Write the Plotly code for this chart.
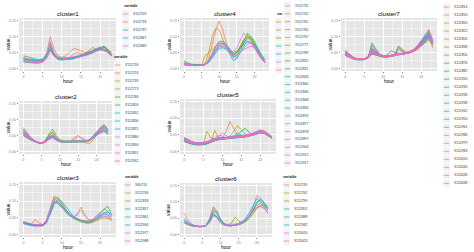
import math
import plotly.graph_objects as go

HOURS = list(range(24))
X_TICKS = [0, 5, 10, 15, 20]
Y_TICKS = [0.0, 0.05, 0.10, 0.15]

CLUSTER1 = [
    [.030,.027,.025,.024,.024,.025,.045,.100,.060,.040,.035,.034,.034,.035,.038,.040,.042,.045,.050,.055,.060,.065,.058,.045],
    [.025,.022,.020,.020,.020,.022,.040,.080,.050,.035,.033,.040,.050,.062,.060,.055,.050,.048,.050,.058,.060,.070,.060,.042],
    [.028,.025,.024,.022,.022,.024,.035,.065,.045,.030,.028,.027,.028,.030,.035,.040,.045,.055,.066,.060,.058,.055,.050,.040],
    [.035,.030,.028,.026,.025,.026,.040,.070,.045,.032,.030,.030,.032,.034,.036,.040,.045,.050,.055,.060,.065,.060,.055,.045],
    [.040,.036,.033,.030,.028,.030,.045,.060,.040,.032,.030,.030,.031,.033,.035,.040,.045,.050,.055,.060,.065,.070,.060,.050],
    [.020,.018,.018,.017,.017,.020,.035,.075,.040,.028,.026,.028,.030,.032,.035,.038,.042,.046,.050,.058,.062,.060,.055,.040],
    [.030,.028,.026,.025,.025,.027,.040,.060,.042,.030,.028,.029,.030,.032,.035,.038,.040,.045,.050,.055,.060,.067,.055,.042],
    [.025,.023,.021,.020,.020,.022,.038,.085,.045,.030,.028,.028,.030,.030,.034,.036,.040,.043,.048,.052,.058,.060,.052,.040],
    [.032,.030,.028,.027,.026,.028,.042,.070,.048,.036,.032,.032,.034,.036,.040,.044,.048,.052,.056,.062,.068,.060,.050,.042],
    [.022,.020,.019,.018,.018,.020,.030,.055,.038,.030,.028,.030,.035,.045,.050,.045,.042,.045,.050,.055,.060,.058,.050,.038],
]

CLUSTER2 = [
    [.075,.058,.045,.035,.029,.027,.031,.045,.050,.038,.032,.031,.031,.032,.034,.034,.033,.033,.036,.046,.060,.072,.078,.065],
    [.060,.050,.041,.034,.028,.026,.030,.048,.062,.045,.034,.032,.032,.033,.045,.050,.040,.034,.036,.044,.055,.066,.072,.060],
    [.055,.045,.038,.032,.027,.025,.029,.040,.045,.036,.030,.029,.029,.030,.031,.031,.030,.027,.025,.035,.055,.075,.085,.070],
    [.065,.052,.042,.034,.029,.028,.034,.055,.070,.050,.036,.033,.032,.032,.033,.032,.031,.031,.034,.042,.052,.062,.068,.058],
    [.050,.042,.036,.031,.027,.026,.030,.042,.048,.038,.032,.031,.031,.032,.033,.033,.032,.032,.035,.048,.062,.070,.074,.062],
    [.070,.055,.043,.034,.028,.026,.029,.038,.044,.036,.031,.030,.030,.031,.032,.032,.031,.031,.034,.043,.056,.068,.080,.068],
    [.058,.047,.039,.033,.028,.027,.033,.052,.058,.042,.034,.032,.032,.033,.034,.034,.033,.033,.036,.045,.054,.062,.066,.056],
    [.062,.050,.041,.034,.029,.027,.031,.044,.046,.036,.031,.030,.030,.031,.032,.032,.031,.031,.035,.047,.060,.074,.082,.066],
    [.052,.044,.037,.032,.028,.027,.032,.046,.052,.040,.033,.031,.031,.032,.033,.033,.032,.032,.036,.044,.053,.060,.064,.055],
    [.068,.054,.043,.035,.029,.027,.030,.041,.045,.036,.031,.030,.030,.031,.032,.032,.031,.030,.033,.042,.058,.070,.076,.063],
    [.057,.047,.039,.033,.028,.026,.029,.039,.043,.035,.031,.030,.030,.031,.040,.046,.042,.035,.035,.044,.055,.066,.073,.062],
    [.063,.051,.041,.034,.029,.027,.031,.043,.047,.037,.032,.031,.031,.032,.033,.033,.032,.032,.036,.046,.059,.071,.079,.067],
    [.054,.045,.038,.032,.028,.026,.030,.041,.046,.037,.032,.031,.031,.032,.033,.033,.032,.032,.034,.041,.050,.058,.063,.054],
]

CLUSTER3 = [
    [.036,.032,.030,.045,.035,.030,.040,.075,.110,.100,.085,.070,.060,.050,.045,.040,.036,.034,.036,.042,.050,.055,.052,.045],
    [.034,.030,.028,.027,.026,.027,.038,.070,.105,.112,.095,.075,.060,.052,.058,.082,.060,.045,.040,.042,.046,.050,.048,.042],
    [.038,.034,.031,.029,.028,.029,.042,.080,.115,.108,.090,.072,.058,.048,.042,.038,.035,.034,.038,.048,.062,.077,.070,.055],
    [.033,.029,.027,.026,.025,.026,.035,.065,.095,.098,.088,.074,.062,.054,.048,.043,.040,.040,.045,.055,.065,.075,.085,.060],
    [.035,.031,.029,.028,.027,.028,.037,.072,.100,.092,.080,.068,.058,.050,.045,.041,.038,.037,.040,.046,.054,.060,.058,.050],
    [.037,.033,.030,.029,.028,.029,.040,.060,.090,.105,.100,.085,.068,.055,.047,.042,.039,.038,.041,.048,.056,.064,.068,.058],
    [.032,.028,.026,.025,.024,.025,.033,.068,.108,.098,.082,.066,.056,.050,.062,.072,.055,.044,.042,.045,.050,.054,.052,.046],
    [.039,.035,.032,.030,.029,.030,.043,.078,.102,.095,.084,.070,.060,.052,.046,.042,.040,.040,.044,.052,.060,.066,.062,.052],
]

CLUSTER4 = [
    [.015,.012,.010,.010,.010,.010,.012,.030,.080,.120,.148,.120,.080,.050,.040,.045,.060,.080,.095,.090,.070,.050,.035,.020],
    [.020,.015,.012,.011,.011,.012,.015,.050,.100,.125,.120,.090,.065,.050,.040,.050,.070,.090,.100,.095,.075,.055,.035,.020],
    [.015,.012,.011,.010,.010,.012,.040,.050,.060,.070,.080,.078,.070,.055,.045,.050,.070,.090,.105,.090,.070,.050,.030,.018],
    [.012,.010,.010,.010,.010,.010,.012,.025,.050,.070,.085,.085,.075,.060,.045,.050,.065,.085,.110,.100,.080,.055,.035,.020],
    [.025,.018,.014,.012,.012,.012,.014,.020,.040,.060,.075,.080,.070,.055,.035,.040,.060,.080,.095,.100,.085,.060,.040,.025],
    [.015,.012,.010,.010,.010,.011,.013,.020,.035,.055,.070,.075,.070,.060,.050,.055,.065,.075,.085,.080,.075,.060,.045,.028],
    [.012,.010,.010,.009,.009,.010,.012,.020,.035,.050,.062,.065,.060,.045,.025,.030,.050,.070,.085,.080,.065,.050,.035,.020],
    [.014,.012,.010,.010,.010,.011,.013,.022,.040,.055,.065,.070,.065,.050,.035,.035,.050,.065,.075,.080,.070,.055,.035,.020],
    [.013,.011,.010,.010,.010,.010,.012,.022,.045,.065,.080,.080,.070,.055,.050,.065,.090,.110,.100,.085,.065,.045,.030,.018],
    [.016,.013,.011,.010,.010,.011,.013,.025,.045,.060,.070,.070,.062,.050,.040,.042,.050,.060,.065,.070,.065,.050,.032,.020],
]

CLUSTER5 = [
    [.036,.030,.026,.024,.023,.024,.027,.032,.036,.038,.040,.042,.044,.045,.046,.046,.047,.049,.052,.057,.060,.058,.052,.044],
    [.033,.028,.024,.022,.021,.022,.025,.030,.034,.037,.040,.060,.090,.070,.050,.045,.046,.048,.051,.055,.057,.055,.049,.041],
    [.038,.032,.027,.025,.024,.025,.028,.034,.038,.040,.041,.042,.046,.060,.078,.065,.052,.050,.053,.058,.062,.059,.053,.045],
    [.031,.027,.023,.021,.020,.021,.024,.029,.063,.040,.038,.039,.040,.041,.042,.043,.044,.046,.049,.054,.058,.056,.050,.042],
    [.040,.034,.029,.026,.025,.026,.060,.040,.038,.038,.039,.040,.041,.042,.043,.043,.045,.047,.051,.056,.060,.058,.052,.044],
    [.034,.029,.025,.023,.022,.023,.026,.031,.035,.037,.039,.040,.041,.042,.043,.044,.046,.049,.054,.060,.065,.062,.054,.045],
    [.037,.031,.027,.024,.023,.024,.028,.033,.037,.039,.040,.041,.042,.043,.044,.043,.044,.046,.049,.053,.056,.055,.050,.043],
    [.029,.025,.022,.020,.019,.020,.023,.028,.033,.036,.038,.040,.042,.044,.050,.060,.070,.058,.050,.052,.055,.054,.048,.040],
    [.035,.030,.026,.024,.023,.024,.027,.032,.036,.038,.039,.041,.043,.045,.047,.048,.049,.050,.053,.058,.061,.059,.053,.045],
    [.042,.035,.030,.027,.026,.027,.030,.035,.039,.041,.042,.042,.043,.043,.044,.044,.045,.047,.050,.054,.057,.056,.051,.046],
    [.032,.028,.024,.022,.021,.022,.025,.030,.034,.036,.038,.039,.040,.041,.042,.042,.044,.047,.052,.058,.062,.060,.053,.043],
    [.036,.031,.027,.025,.024,.025,.028,.033,.037,.039,.040,.041,.042,.043,.044,.045,.046,.048,.051,.055,.058,.057,.052,.044],
    [.039,.033,.028,.026,.025,.026,.029,.034,.038,.040,.041,.042,.043,.048,.055,.050,.046,.047,.050,.055,.059,.057,.051,.043],
    [.030,.026,.023,.021,.020,.021,.024,.029,.033,.035,.037,.038,.039,.040,.041,.041,.043,.046,.050,.056,.060,.058,.051,.042],
    [.035,.030,.026,.024,.023,.024,.027,.031,.035,.045,.055,.048,.043,.043,.044,.044,.046,.048,.051,.055,.058,.056,.050,.043],
    [.037,.032,.027,.025,.024,.025,.028,.032,.036,.038,.039,.040,.041,.042,.043,.043,.044,.046,.049,.052,.055,.054,.049,.042],
    [.033,.028,.025,.023,.022,.023,.026,.031,.035,.037,.039,.040,.042,.043,.044,.045,.047,.050,.055,.061,.064,.060,.052,.043],
    [.041,.034,.029,.026,.025,.026,.029,.034,.038,.040,.041,.042,.043,.044,.045,.045,.046,.048,.051,.055,.058,.057,.052,.046],
    [.034,.029,.025,.023,.022,.023,.026,.030,.034,.036,.038,.040,.042,.044,.046,.047,.048,.050,.054,.059,.063,.061,.054,.044],
    [.038,.032,.028,.025,.024,.025,.028,.033,.040,.050,.045,.042,.043,.044,.045,.044,.045,.047,.050,.054,.057,.055,.050,.043],
    [.032,.027,.024,.022,.021,.022,.025,.030,.034,.036,.038,.039,.040,.041,.042,.043,.045,.048,.053,.058,.061,.059,.051,.041],
]

CLUSTER6 = [
    [.065,.045,.032,.027,.025,.025,.028,.045,.060,.050,.035,.028,.027,.027,.028,.030,.035,.045,.060,.085,.120,.110,.095,.080],
    [.040,.032,.027,.025,.024,.024,.027,.050,.085,.070,.045,.032,.028,.028,.030,.033,.038,.048,.060,.075,.090,.095,.085,.065],
    [.035,.030,.027,.025,.025,.025,.028,.040,.070,.065,.045,.033,.030,.035,.053,.042,.035,.040,.050,.065,.080,.090,.088,.078],
    [.045,.035,.029,.026,.025,.025,.027,.040,.065,.055,.040,.030,.027,.027,.028,.030,.034,.042,.055,.075,.100,.105,.095,.082],
    [.038,.031,.027,.025,.024,.024,.027,.045,.075,.068,.045,.032,.028,.027,.029,.031,.036,.045,.058,.078,.095,.110,.098,.085],
    [.050,.038,.030,.027,.025,.025,.028,.038,.060,.055,.040,.030,.027,.027,.029,.033,.040,.052,.068,.090,.110,.100,.090,.075],
    [.042,.034,.028,.026,.025,.025,.028,.048,.080,.072,.048,.034,.030,.030,.032,.035,.040,.048,.058,.072,.085,.088,.080,.065],
    [.036,.030,.027,.025,.024,.024,.026,.036,.058,.052,.038,.030,.027,.027,.028,.031,.036,.044,.056,.070,.082,.085,.080,.070],
]

CLUSTER7 = [
    [.052,.042,.034,.030,.029,.030,.036,.048,.044,.040,.038,.037,.040,.043,.046,.046,.048,.051,.056,.066,.078,.095,.105,.080],
    [.047,.039,.033,.029,.028,.029,.034,.055,.050,.042,.039,.038,.041,.044,.048,.047,.049,.052,.057,.064,.075,.092,.120,.085],
    [.043,.037,.031,.028,.027,.028,.035,.060,.052,.043,.038,.036,.039,.042,.045,.044,.046,.049,.054,.062,.072,.085,.095,.078],
    [.040,.035,.030,.028,.027,.028,.034,.075,.058,.044,.039,.037,.040,.044,.068,.055,.048,.050,.055,.063,.074,.088,.098,.080],
    [.056,.045,.036,.031,.030,.031,.037,.052,.048,.042,.040,.039,.042,.045,.047,.047,.050,.053,.058,.068,.080,.098,.110,.082],
    [.045,.038,.032,.029,.028,.029,.033,.046,.043,.038,.036,.036,.038,.041,.044,.044,.046,.050,.056,.066,.082,.100,.115,.065],
    [.050,.041,.034,.030,.029,.030,.036,.065,.055,.045,.041,.039,.041,.043,.045,.045,.047,.049,.053,.060,.070,.082,.090,.072],
    [.042,.036,.031,.028,.027,.028,.033,.045,.042,.038,.036,.036,.038,.040,.070,.060,.050,.050,.054,.062,.073,.086,.094,.077],
    [.048,.040,.033,.029,.028,.029,.035,.050,.046,.041,.039,.042,.055,.050,.047,.046,.048,.050,.055,.064,.076,.090,.100,.079],
    [.044,.037,.031,.028,.027,.028,.034,.048,.044,.040,.037,.037,.039,.042,.046,.046,.048,.052,.058,.070,.085,.098,.104,.084],
    [.054,.044,.035,.031,.030,.031,.038,.058,.051,.044,.040,.038,.040,.043,.045,.045,.047,.050,.055,.063,.074,.089,.098,.076],
    [.046,.038,.032,.029,.028,.029,.034,.080,.062,.046,.040,.038,.040,.043,.046,.046,.048,.051,.056,.065,.078,.094,.102,.080],
    [.041,.036,.031,.028,.027,.028,.034,.047,.044,.040,.037,.036,.038,.041,.044,.044,.047,.051,.058,.068,.082,.100,.112,.088],
    [.049,.040,.033,.030,.029,.030,.035,.054,.049,.042,.039,.038,.041,.044,.060,.052,.049,.051,.056,.064,.075,.090,.099,.078],
    [.053,.043,.035,.031,.030,.031,.037,.049,.045,.041,.039,.038,.041,.044,.047,.047,.049,.052,.057,.067,.080,.096,.108,.083],
    [.045,.038,.032,.029,.028,.029,.035,.062,.054,.044,.039,.037,.039,.042,.045,.045,.047,.050,.055,.063,.073,.087,.096,.077],
    [.043,.037,.031,.028,.027,.028,.034,.051,.047,.041,.038,.037,.040,.043,.046,.046,.048,.052,.059,.070,.084,.101,.108,.086],
    [.050,.041,.034,.030,.029,.030,.036,.056,.050,.043,.040,.039,.041,.044,.047,.046,.048,.051,.055,.062,.072,.086,.093,.074],
    [.047,.039,.033,.029,.028,.029,.034,.049,.045,.041,.039,.038,.040,.043,.046,.046,.049,.053,.060,.072,.088,.106,.118,.090],
    [.044,.037,.031,.028,.027,.028,.033,.046,.043,.039,.037,.036,.038,.041,.044,.044,.046,.049,.054,.062,.073,.088,.097,.079],
    [.051,.042,.034,.030,.029,.030,.036,.070,.058,.045,.040,.038,.040,.043,.046,.046,.048,.051,.056,.065,.077,.093,.101,.081],
    [.046,.039,.033,.029,.028,.029,.035,.052,.047,.042,.039,.038,.041,.043,.065,.055,.049,.051,.055,.063,.075,.090,.099,.078],
    [.055,.045,.036,.031,.030,.031,.038,.053,.049,.043,.040,.039,.042,.045,.048,.048,.050,.054,.060,.071,.086,.104,.122,.087],
]

LEG_A = ["X112709", "X112718", "X112737", "X112867", "X112869"]
LEG_B = ["X112716", "X112724", "X112739", "X112773", "X112786", "X112826", "X112852",
         "X112856", "X112875", "X112880", "X112890", "X112891", "X112932"]
LEG_C = ["X60713", "X112746", "X112818", "X112817", "X112861", "X112934", "X112977", "X112988"]
LEG_D_KEYS = 7
LEG_E = ["X112732", "X112742", "X112761", "X112765", "X112767", "X112777", "X112789",
         "X112815", "X112811", "X112833", "X112840", "X112846", "X112848", "X112856",
         "X112876", "X112877", "X112878", "X112897", "X112904", "X112912", "X112917"]
LEG_F = ["X112749", "X112762", "X112799", "X112852", "X112888", "X112982", "X113016", "X113023"]
LEG_G = ["X112814", "X112816", "X112820", "X112822", "X112824", "X112838", "X112854",
         "X112876", "X112882", "X112920", "X112935", "X112936", "X112938", "X112942",
         "X112950", "X112961", "X112986", "X112979", "X112983", "X113016", "X113030",
         "X113036", "X113038"]

W, H = 474, 252
FONT = "Liberation Sans, Arial, sans-serif"


def px(x):
    return x / W


def py(y):
    return 1 - y / H


def hcl_hex(h, c=100.0, l=65.0):
    hr = math.radians(h)
    u, v = c * math.cos(hr), c * math.sin(hr)
    Xn, Yn, Zn = 95.047, 100.0, 108.883
    Y = Yn * ((l + 16) / 116) ** 3
    den = Xn + 15 * Yn + 3 * Zn
    un, vn = 4 * Xn / den, 9 * Yn / den
    up, vp = u / (13 * l) + un, v / (13 * l) + vn
    X = Y * 9 * up / (4 * vp)
    Z = Y * (12 - 3 * up - 20 * vp) / (4 * vp)
    X, Y, Z = X / 100, Y / 100, Z / 100
    rgb = [3.2404542 * X - 1.5371385 * Y - 0.4985314 * Z,
           -0.9692660 * X + 1.8760108 * Y + 0.0415560 * Z,
           0.0556434 * X - 0.2040259 * Y + 1.0572252 * Z]
    out = []
    for ch in rgb:
        ch = 12.92 * ch if ch <= 0.0031308 else 1.055 * ch ** (1 / 2.4) - 0.055
        out.append(int(round(min(1, max(0, ch)) * 255)))
    return "#%02x%02x%02x" % tuple(out)


def hue_pal(n):
    return [hcl_hex(15 + 360 * i / n) for i in range(n)]


PANELS = [
    ("cluster1", CLUSTER1, (19, 116, 18, 71)),
    ("cluster4", CLUSTER4, (180, 269, 18, 71)),
    ("cluster7", CLUSTER7, (341, 437, 18, 71)),
    ("cluster2", CLUSTER2, (19, 112, 101, 154)),
    ("cluster5", CLUSTER5, (180, 276, 99, 154)),
    ("cluster3", CLUSTER3, (19, 116, 182, 237)),
    ("cluster6", CLUSTER6, (180, 272, 183, 237)),
]

fig = go.Figure()
shapes, annotations = [], []
layout_axes = {}
for k, (name, data, (x0, x1, y0, y1)) in enumerate(PANELS, start=1):
    sfx = "" if k == 1 else str(k)
    cols = hue_pal(len(data))
    for s, c in zip(data, cols):
        fig.add_trace(go.Scatter(x=HOURS, y=s, mode="lines", line=dict(color=c, width=0.75),
                                 xaxis="x" + sfx, yaxis="y" + sfx, hoverinfo="skip",
                                 showlegend=False))
    common = dict(showgrid=True, gridcolor="white", gridwidth=0.6, zeroline=False,
                  showline=False, ticks="outside", ticklen=1.2, tickwidth=0.5,
                  tickcolor="#7f7f7f", tickfont=dict(size=3.6, color="#7f7f7f", family=FONT),
                  ticklabelstandoff=0, automargin=False, fixedrange=True)
    layout_axes["xaxis" + sfx] = dict(
        common, domain=[px(x0), px(x1)], anchor="y" + sfx, range=[-1.15, 24.15],
        tickmode="array", tickvals=X_TICKS,
        minor=dict(tickvals=[2.5, 7.5, 12.5, 17.5, 22.5], showgrid=True,
                   gridcolor="#f2f2f2", gridwidth=0.35, ticks=""))
    layout_axes["yaxis" + sfx] = dict(
        common, domain=[py(y1), py(y0)], anchor="x" + sfx, range=[-0.0075, 0.1575],
        tickmode="array", tickvals=Y_TICKS, tickformat=".2f",
        minor=dict(tickvals=[0.025, 0.075, 0.125], showgrid=True,
                   gridcolor="#f2f2f2", gridwidth=0.35, ticks=""))
    annotations.append(dict(x=px((x0 + x1) / 2), y=py(y0 - 5), xref="paper", yref="paper",
                            text=name, showarrow=False, xanchor="center", yanchor="middle",
                            font=dict(size=6.2, color="black", family=FONT)))
    annotations.append(dict(x=px((x0 + x1) / 2), y=py(y1 + 9.5), xref="paper", yref="paper",
                            text="hour", showarrow=False, xanchor="center", yanchor="middle",
                            font=dict(size=5, color="black", family=FONT)))
    annotations.append(dict(x=px(x0 - 12), y=py((y0 + y1) / 2), xref="paper", yref="paper",
                            text="value", showarrow=False, textangle=-90,
                            xanchor="center", yanchor="middle",
                            font=dict(size=5, color="black", family=FONT)))


def add_legend(labels, key_x, first_y, step, title=None, title_xy=None, show_text=True):
    cols = hue_pal(len(labels))
    if title:
        annotations.append(dict(x=px(title_xy[0]), y=py(title_xy[1]), xref="paper", yref="paper",
                                text="<b>%s</b>" % title, showarrow=False, xanchor="left",
                                yanchor="middle", font=dict(size=3.6, color="#222", family=FONT)))
    for i, (lab, c) in enumerate(zip(labels, cols)):
        yc = first_y + i * step
        shapes.append(dict(type="rect", xref="paper", yref="paper",
                           x0=px(key_x), x1=px(key_x + 7), y0=py(yc - step / 2), y1=py(yc + step / 2),
                           fillcolor="#f2f2f2", line=dict(color="white", width=0.5), layer="above"))
        shapes.append(dict(type="line", xref="paper", yref="paper",
                           x0=px(key_x + 0.8), x1=px(key_x + 6.2), y0=py(yc), y1=py(yc),
                           line=dict(color=c, width=0.7), layer="above"))
        if show_text:
            annotations.append(dict(x=px(key_x + 8.5), y=py(yc), xref="paper", yref="paper",
                                    text=lab, showarrow=False, xanchor="left", yanchor="middle",
                                    font=dict(size=3.4, color="#333", family=FONT)))


add_legend(LEG_A, 122, 14, 8, "variable", (122, 6))
add_legend(LEG_B, 114, 65, 8, "variable", (112, 57))
add_legend(LEG_C, 124, 185, 8, "variable", (123, 177))
add_legend(LEG_E[:LEG_D_KEYS], 275, 22, 8, "var", (275, 14), show_text=False)
add_legend(LEG_E, 284, 6, 7.85)
add_legend(LEG_F, 283, 185, 8, "variable", (281, 177))
add_legend(LEG_G, 443, 7, 8.02)

fig.update_layout(
    width=W, height=H, margin=dict(l=0, r=0, t=0, b=0),
    paper_bgcolor="white", plot_bgcolor="#e5e5e5", showlegend=False,
    shapes=shapes, annotations=annotations, **layout_axes)

fig.write_html("out.html")
